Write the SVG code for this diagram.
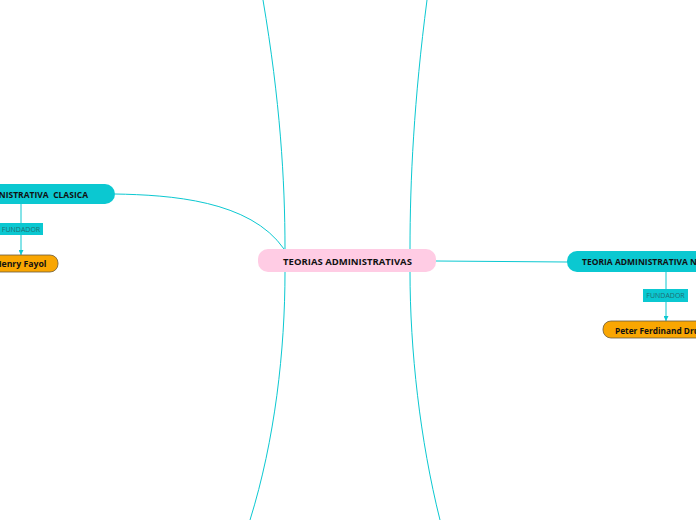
<svg xmlns="http://www.w3.org/2000/svg" width="696" height="520" viewBox="0 0 696 520">
<defs>
<style>
.conn{fill:none;stroke:#0bc8d1;stroke-width:1}
.main{fill:#0bc8d1}
.lbl{fill:#0bc8d1}
.lt{font-family:"Open Sans","Noto Sans",sans-serif;font-size:7px;fill:#1f6f73}
.t{font-family:"Open Sans","Noto Sans",sans-serif;font-weight:bold;fill:#111}
.leaf{fill:#f9a602;stroke:#6b5c3e;stroke-width:0.8}
</style>
<marker id="arr" viewBox="0 0 6 6" refX="6" refY="3" markerWidth="5" markerHeight="5" orient="auto" markerUnits="userSpaceOnUse">
<path d="M0,0 L6,3 L0,6 z" fill="#0bc8d1"/>
</marker>
</defs>
<rect width="696" height="520" fill="#fff"/>
<g id="connectors">
<path class="conn" d="M285 249 C 285 180, 280 100, 263 0"/>
<path class="conn" d="M410 249 C 410 180, 414 100, 427 0"/>
<path class="conn" d="M285 272 C 285 350, 275 440, 250 520"/>
<path class="conn" d="M410 272 C 410 350, 420 440, 440 520"/>
<path class="conn" d="M115 194 C 170 195, 250 200, 284 249"/>
<path class="conn" d="M436 261 L 567 262"/>
<path class="conn" d="M21 204 L 21 255" marker-end="url(#arr)"/>
<path class="conn" d="M666 272 L 666 321" marker-end="url(#arr)"/>
</g>
<g id="center">
<rect x="258" y="249" width="178" height="23" rx="10" fill="#ffcce4"/>
<text class="t" x="347.5" y="264.5" font-size="9.5" text-anchor="middle">TEORIAS ADMINISTRATIVAS</text>
</g>
<g id="clasica">
<rect class="main" x="-70" y="184" width="185" height="20" rx="10"/>
<text class="t" x="88" y="197.5" font-size="8.5" text-anchor="end" xml:space="preserve">TEORIA ADMINISTRATIVA  CLASICA</text>
</g>
<g id="fundador-left">
<rect class="lbl" x="-2" y="223" width="45" height="12"/>
<text class="lt" x="21" y="231.5" text-anchor="middle">FUNDADOR</text>
</g>
<g id="fayol">
<rect class="leaf" x="-20" y="255" width="78" height="17" rx="8"/>
<text class="t" x="46.5" y="267" font-size="8.7" text-anchor="end">Henry Fayol</text>
</g>
<g id="neoclasica">
<rect class="main" x="567" y="251" width="220" height="21" rx="10"/>
<text class="t" x="582" y="265" font-size="8.5">TEORIA ADMINISTRATIVA NEOCLASICA</text>
</g>
<g id="fundador-right">
<rect class="lbl" x="643" y="289" width="45" height="13"/>
<text class="lt" x="665.5" y="298" text-anchor="middle">FUNDADOR</text>
</g>
<g id="drucker">
<rect class="leaf" x="603" y="321" width="150" height="17" rx="8"/>
<text class="t" x="615" y="333.5" font-size="8.3">Peter Ferdinand Drucker</text>
</g>
</svg>
